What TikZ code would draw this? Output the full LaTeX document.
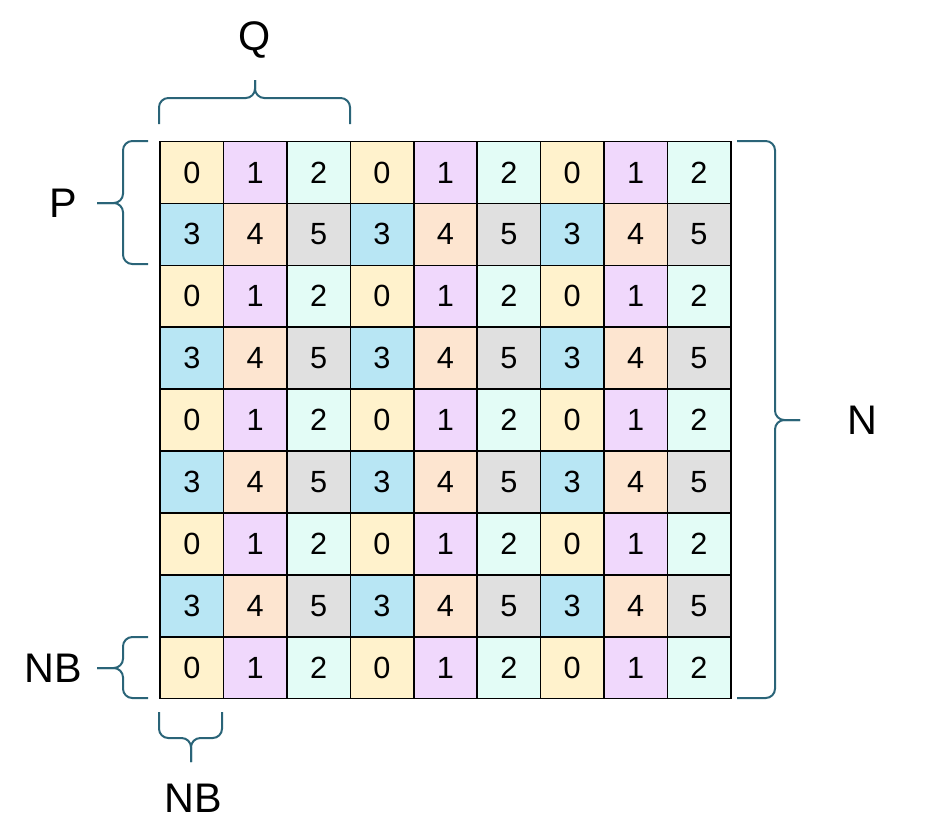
\documentclass[tikz,border=0pt]{standalone}
\usepackage{fontspec}
\setmainfont{Liberation Sans}
\definecolor{c0}{HTML}{FFF2CC}
\definecolor{c1}{HTML}{F0D8FC}
\definecolor{c2}{HTML}{E3FCF6}
\definecolor{c3}{HTML}{B8E6F4}
\definecolor{c4}{HTML}{FDE5D0}
\definecolor{c5}{HTML}{E0E0E0}
\definecolor{br}{HTML}{2A6478}
\begin{document}
\begin{tikzpicture}[x=0.75pt,y=-0.75pt,
  cell/.style={draw=black,line width=1.2pt,minimum width=63.4*0.75pt,minimum height=61.9*0.75pt,inner sep=0pt,anchor=north west,font=\fontsize{23}{23}\selectfont},
  brc/.style={draw=br,line width=1.5pt,rounded corners=7pt},
  lbl/.style={font=\fontsize{31}{31}\selectfont}]
\useasboundingbox (0,0) rectangle (935,826);
\foreach \r in {0,...,8}{
  \foreach \c in {0,...,8}{
    \pgfmathtruncatemacro{\v}{mod(\c,3)+3*mod(\r,2)}
    \node[cell,fill=c\v] (g\r\c) at ({159.3+63.4*\c},{140.7+61.9*\r}) {\v};
  }
}
% Q
\draw[brc] (159,124) -- (159,98) -- (255,98) -- (255,80);
\draw[brc] (350,124) -- (350,98) -- (255,98) -- (255,80);
% P
\draw[brc] (148,141) -- (123,141) -- (123,203) -- (97,203);
\draw[brc] (148,264) -- (123,264) -- (123,203) -- (97,203);
% N
\draw[brc] (737,141) -- (775,141) -- (775,420) -- (800,420);
\draw[brc] (737,698) -- (775,698) -- (775,420) -- (800,420);
% NB left
\draw[brc] (148,637) -- (123,637) -- (123,668) -- (97,668);
\draw[brc] (148,698) -- (123,698) -- (123,668) -- (97,668);
% NB bottom
\draw[brc] (159,712) -- (159,738) -- (191,738) -- (191,762);
\draw[brc] (222,712) -- (222,738) -- (191,738) -- (191,762);
\node[lbl] (q) at (255,40) {Q};
\node[lbl] (p) at (63,203) {P};
\node[lbl] (n) at (862,420) {N};
\node[lbl] (nb1) at (53,668) {NB};
\node[lbl] (nb2) at (193,798) {NB};
\end{tikzpicture}
\end{document}
